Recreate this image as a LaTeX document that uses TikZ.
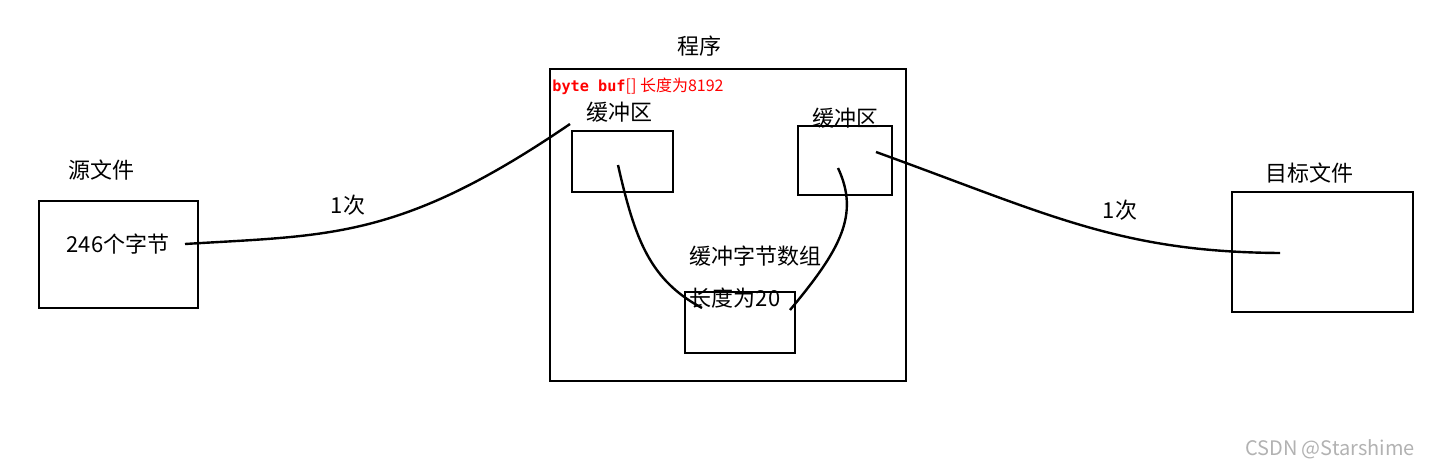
\documentclass[tikz,border=0pt]{standalone}
\usepackage{fontspec}
\setmainfont{Noto Sans CJK SC}
\newfontfamily\monob{DejaVu Sans Mono}[Scale=0.95]
\begin{document}
\begin{tikzpicture}[x=0.5pt,y=-0.5pt,
  box/.style={draw,line width=1.2pt},
  lbl/.style={font=\fontsize{11}{13}\selectfont,inner sep=0pt},
  ln/.style={line width=1.2pt}]
\useasboundingbox (0,0) rectangle (1455,476);
\draw[box] (39,201) rectangle (198,308);
\node[lbl] (src) at (101,170) {源文件};
\node[lbl] (b246) at (118,244) {246个字节};
\coordinate (s1) at (185,244);
\coordinate (s2) at (570,124);
\draw[ln] (s1) .. controls (330,235) and (400,240) .. (s2);
\node[lbl] (c1) at (348,205) {1次};
\draw[box] (550,69) rectangle (906,381);
\node[lbl] (prog) at (699,46) {程序};
\node[anchor=west,inner sep=0pt,text=red,font=\fontsize{8}{10}\selectfont] (red) at (552,86) {{\monob\bfseries byte buf}[] 长度为8192};
\draw[box] (572,131) rectangle (673,192);
\node[lbl] (lb) at (619,112) {缓冲区};
\draw[box] (798,126) rectangle (892,195);
\node[lbl] (rb) at (845,118) {缓冲区};
\draw[box] (685,292) rectangle (795,353);
\node[lbl] (arr) at (755,256) {缓冲字节数组};
\node[lbl] (len) at (735,298) {长度为20};
\coordinate (a1) at (618,165); \coordinate (a2) at (702,308);
\draw[ln] (a1) .. controls (635,240) and (650,280) .. (a2);
\coordinate (b1) at (838,168); \coordinate (b2) at (790,310);
\draw[ln] (b1) .. controls (860,215) and (840,250) .. (b2);
\coordinate (t1) at (876,152); \coordinate (t2) at (1280,253);
\draw[ln] (t1) .. controls (1050,215) and (1120,252) .. (t2);
\node[lbl] (c2) at (1120,210) {1次};
\draw[box] (1232,192) rectangle (1413,312);
\node[lbl] (dst) at (1309,173) {目标文件};
\node[text=gray!60,font=\fontsize{10}{12}\selectfont,inner sep=0pt] (wm) at (1330,449) {CSDN @Starshime};
\end{tikzpicture}
\end{document}
